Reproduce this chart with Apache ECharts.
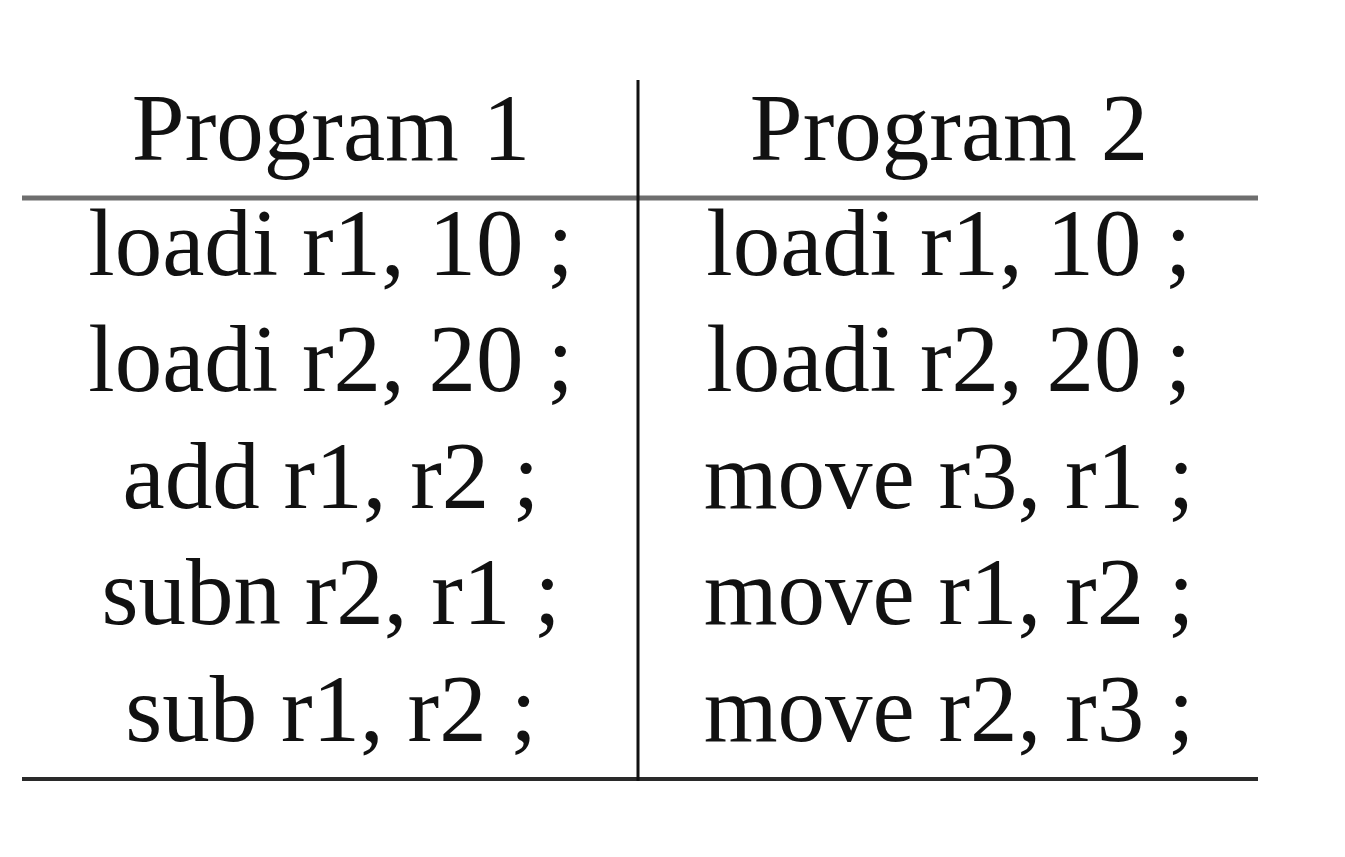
<!DOCTYPE html>
<html><head><meta charset="utf-8">
<script src="https://cdn.jsdelivr.net/npm/echarts@6/dist/echarts.min.js"></script>
<style>html,body{margin:0;padding:0;background:#fff}#c{width:1345px;height:857px}</style>
</head><body><div id="c"></div>
<script>
const columns = ['Program 1', 'Program 2'];
const program1 = ['loadi r1, 10 ;', 'loadi r2, 20 ;', 'add r1, r2 ;', 'subn r2, r1 ;', 'sub r1, r2 ;'];
const program2 = ['loadi r1, 10 ;', 'loadi r2, 20 ;', 'move r3, r1 ;', 'move r1, r2 ;', 'move r2, r3 ;'];
const headerRow = 0.47;
const rowPos = [1.46, 2.46, 3.46, 4.46, 5.46];

const cells = [];
columns.forEach((c, i) => cells.push([i, headerRow, c]));
program1.forEach((t, r) => cells.push([0, rowPos[r], t]));
program2.forEach((t, r) => cells.push([1, rowPos[r], t]));

const chart = echarts.init(document.getElementById('c'));
chart.setOption({
  backgroundColor: '#fff',
  animation: false,
  grid: {left: 22, right: 87, top: 80, bottom: 77},
  xAxis: {type: 'category', data: columns, show: false, boundaryGap: true},
  yAxis: {type: 'value', min: 0, max: 6.01, inverse: true, show: false},
  series: [{
    type: 'scatter', symbolSize: 0, data: cells,
    itemStyle: {opacity: 1},
    label: {show: true, position: 'inside', formatter: p => p.data[2],
      fontFamily: 'Liberation Serif', fontSize: 95, color: '#111', opacity: 1}
  }],
  graphic: [
    {type: 'line', shape: {x1: 22, y1: 198, x2: 1258, y2: 198}, style: {stroke: '#6e6e6e', lineWidth: 5}},
    {type: 'line', shape: {x1: 22, y1: 779, x2: 1258, y2: 779}, style: {stroke: '#2a2a2a', lineWidth: 4}},
    {type: 'line', shape: {x1: 638, y1: 80, x2: 638, y2: 781}, style: {stroke: '#111', lineWidth: 3}}
  ]
});
</script></body></html>
